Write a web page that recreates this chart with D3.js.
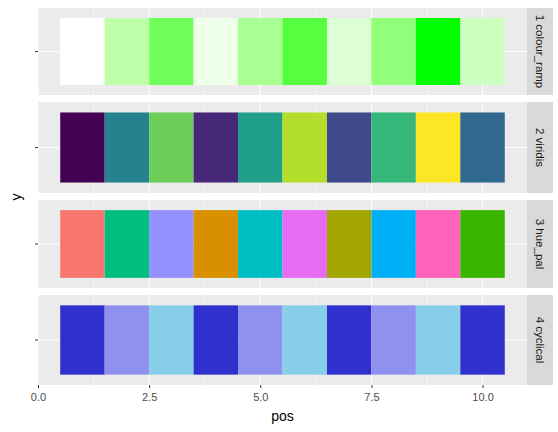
<!DOCTYPE html><html><head><script src="https://d3js.org/d3.v7.min.js"></script>
<style>body{margin:0;background:#fff}text{font-family:"Liberation Sans",Arial,sans-serif}</style></head><body>
<svg id="c" width="558" height="432"></svg>
<script>
const pos=[1,2,3,4,5,6,7,8,9,10];
const facets=["1 colour_ramp","2 viridis","3 hue_pal","4 cyclical"];
const colourRamp=["#FFFFFF","#BFFFAA","#70FF5A","#EEFFEA","#A8FF92","#55FF40","#DDFFD5","#92FF7A","#00FF00","#CDFFC0"];
const viridis=["#440154","#26828E","#6DCD59","#482878","#1F9E89","#B4DE2C","#3E4A89","#35B779","#FDE725","#31688E"];
const huePal=["#F8766D","#00BF7D","#9590FF","#D89000","#00BFC4","#E76BF3","#A3A500","#00B0F6","#FF62BC","#39B600"];
const cyclical=["#3030CC","#9090EE","#87CEEB","#3030CC","#9090EE","#87CEEB","#3030CC","#9090EE","#87CEEB","#3030CC"];
const series=[colourRamp,viridis,huePal,cyclical];
const xTicks=[0,2.5,5,7.5,10];
const svg=d3.select("#c");
const L=38,R=527,stripW=26;
const x=d3.scaleLinear().domain([0,11]).range([L,R]);
const panels=[[8,95],[102,193],[200,288],[295,385]];
panels.forEach((p,i)=>{
  const [t,b]=p;
  const y=d3.scaleLinear().domain([0,1]).range([b,t]);
  const g=svg.append("g");
  g.append("rect").attr("x",L).attr("y",t).attr("width",R-L).attr("height",b-t).attr("fill","#EBEBEB");
  [1.25,3.75,6.25,8.75].forEach(v=>g.append("line").attr("x1",x(v)).attr("x2",x(v)).attr("y1",t).attr("y2",b).attr("stroke","#fff").attr("stroke-width",0.5));
  xTicks.forEach(v=>g.append("line").attr("x1",x(v)).attr("x2",x(v)).attr("y1",t).attr("y2",b).attr("stroke","#fff").attr("stroke-width",1));
  g.append("line").attr("x1",L).attr("x2",R).attr("y1",y(0.5)).attr("y2",y(0.5)).attr("stroke","#fff").attr("stroke-width",1);
  const ty=(b-t)*0.115;
  g.selectAll("rect.tile").data(pos).enter().append("rect")
   .attr("x",d=>x(d-0.5)).attr("width",d=>x(d+0.5)-x(d-0.5))
   .attr("y",t+ty).attr("height",b-t-2*ty).attr("fill",(d,j)=>series[i][j]);
  g.append("rect").attr("x",R).attr("y",t).attr("width",stripW).attr("height",b-t).attr("fill","#D9D9D9");
  g.append("text").attr("transform",`translate(${R+stripW/2-4},${(t+b)/2}) rotate(90)`).attr("text-anchor","middle")
   .attr("font-size",11.5).attr("fill","#1A1A1A").text(facets[i]);
  g.append("line").attr("x1",L-3).attr("x2",L).attr("y1",y(0.5)).attr("y2",y(0.5)).attr("stroke","#333");
});
const ax=svg.append("g").attr("transform",`translate(0,385)`)
 .call(d3.axisBottom(x).tickValues(xTicks).tickFormat(d3.format(".1f")).tickSize(3).tickSizeOuter(0));
ax.select(".domain").remove();
ax.selectAll("line").attr("stroke","#333");
ax.selectAll("text").attr("fill","#4D4D4D").attr("font-size",11).attr("dy","0.9em");
svg.append("text").attr("x",x(5.5)).attr("y",421).attr("text-anchor","middle").attr("font-size",14).attr("fill","#000").text("pos");
svg.append("text").attr("transform","translate(21,197) rotate(-90)").attr("text-anchor","middle").attr("font-size",14).attr("fill","#000").text("y");
</script></body></html>
